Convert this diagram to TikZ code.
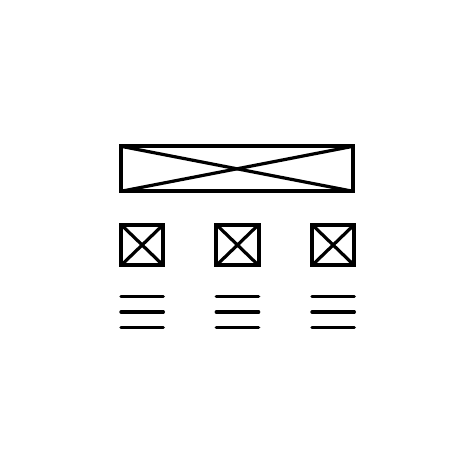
\documentclass[tikz,border=0pt]{standalone}
\begin{document}
\begin{tikzpicture}[x=1pt,y=-1pt,
  frame/.style={draw=black,line width=4pt},
  diag/.style={draw=black,line width=3.2pt},
  txtline/.style={draw=black,line width=3.4pt,line cap=round}]
\useasboundingbox[fill=white] (0,0) rectangle (474,474);
% banner
\coordinate (b1) at (121,146.3);
\coordinate (b2) at (353,191.3);
\draw[diag] (b1) -- (b2);
\draw[diag] (b1 |- b2) -- (b2 |- b1);
\draw[frame] (b1) rectangle (b2);
% three thumbnails
\foreach \n/\x in {a/121, b/216.3, c/312}{
  \coordinate (\n1) at (\x,224.6);
  \coordinate (\n2) at (\x+42.3,265.4);
  \draw[diag] (\n1) -- (\n2);
  \draw[diag] (\n1 |- \n2) -- (\n2 |- \n1);
  \draw[frame] (\n1) rectangle (\n2);
  \foreach \i/\y in {1/296.7,2/312,3/327.3}{
    \coordinate (\n l\i) at (\x,\y);
    \coordinate (\n r\i) at (\x+42.3,\y);
    \draw[txtline] (\n l\i) -- (\n r\i);
  }
}
\end{tikzpicture}
\end{document}
